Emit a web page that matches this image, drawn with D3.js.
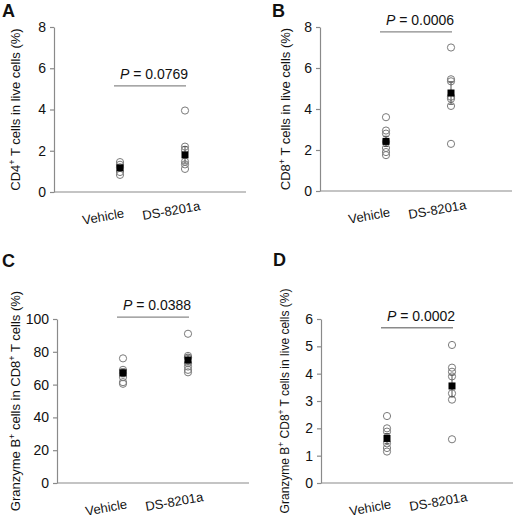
<!DOCTYPE html>
<html>
<head>
<meta charset="utf-8">
<script src="https://cdn.jsdelivr.net/npm/d3@7"></script>
<style>
  body { margin: 0; background: #fff; }
  text { font-family: "Liberation Sans", Arial, sans-serif; fill: #111; }
</style>
</head>
<body>
<div id="chart"></div>
<script>
// group names on the x axis
var categories = ["Vehicle", "DS-8201a"];

// panel A: CD4+ T cells in live cells (%)
var cd4Vehicle = [1.45, 1.32, 1.2, 0.97, 0.83];
var cd4DS = [3.95, 2.2, 2.05, 1.47, 1.34, 1.12];
var cd4Mean = [1.17, 1.8];
var cd4Sem = [0.11, 0.4];

// panel B: CD8+ T cells in live cells (%)
var cd8Vehicle = [3.6, 2.95, 2.8, 2.4, 2.1, 1.9, 1.75];
var cd8DS = [7.0, 5.45, 5.35, 4.6, 4.5, 4.15, 2.3];
var cd8Mean = [2.42, 4.78];
var cd8Sem = [0.25, 0.55];

// panel C: Granzyme B+ cells in CD8+ T cells (%)
var gzbVehicle = [76, 69, 67, 64.5, 61.5, 60.5];
var gzbDS = [91, 77.5, 76.5, 73, 71, 69, 67.5];
var gzbMean = [67.2, 75];
var gzbSem = [2.4, 3];

// panel D: Granzyme B+ CD8+ T cells in live cells (%)
var gzbCd8Vehicle = [2.45, 2.0, 1.88, 1.45, 1.28, 1.15];
var gzbCd8DS = [5.05, 4.22, 4.07, 3.9, 3.28, 3.05, 1.6];
var gzbCd8Mean = [1.63, 3.55];
var gzbCd8Sem = [0.18, 0.4];

// axes and annotations
var panelLetters = ["A", "B", "C", "D"];
var yMax = [8, 8, 100, 6];
var yStep = [2, 2, 20, 1];
var pValues = ["0.0769", "0.0006", "0.0388", "0.0002"];
var sigLineY = [5.15, 7.76, 101.2, 5.68];
// y label: [main, sup, main, sup, main ...]
var yLabels = [
  ["CD4", "+", " T cells in live cells (%)"],
  ["CD8", "+", " T cells in live cells (%)"],
  ["Granzyme B", "+", " cells in CD8", "+", " T cells (%)"],
  ["Granzyme B", "+", " CD8", "+", " T cells in live cells (%)"]
];

var seriesData = [
  [cd4Vehicle, cd4DS, cd4Mean, cd4Sem],
  [cd8Vehicle, cd8DS, cd8Mean, cd8Sem],
  [gzbVehicle, gzbDS, gzbMean, gzbSem],
  [gzbCd8Vehicle, gzbCd8DS, gzbCd8Mean, gzbCd8Sem]
];

// layout of each panel (axis origin, top of y axis, label size)
var layout = [
  {x0: 54,  yTop: 27,  yBot: 192, labX: 15,  labSize: 13, letX: 2,   letY: 17},
  {x0: 320, yTop: 27,  yBot: 191, labX: 285, labSize: 13, letX: 272, letY: 17},
  {x0: 57,  yTop: 319, yBot: 483, labX: 15,  labSize: 13, letX: 2,   letY: 267},
  {x0: 321, yTop: 319, yBot: 483, labX: 285, labSize: 12, letX: 273, letY: 266}
];

var axisColor = "#8a8a8a";
var dotColor = "#7a7a7a";

var svg = d3.select("#chart").append("svg")
    .attr("width", 520)
    .attr("height", 525);

layout.forEach(function(p, i) {
  var g = svg.append("g").attr("class", "panel");

  var yScale = d3.scaleLinear()
      .domain([0, yMax[i]])
      .range([p.yBot, p.yTop]);

  var xScale = d3.scaleLinear()
      .domain([0, 1])
      .range([p.x0 + 66, p.x0 + 131]);

  // y axis
  var yAxis = d3.axisLeft(yScale)
      .tickValues(d3.range(0, yMax[i] + yStep[i] / 2, yStep[i]))
      .tickFormat(d3.format("d"))
      .tickSize(4)
      .tickSizeOuter(0)
      .tickPadding(4);

  var ya = g.append("g")
      .attr("transform", "translate(" + p.x0 + ",0)")
      .call(yAxis);
  ya.select(".domain").attr("stroke", axisColor).attr("stroke-width", 1.2);
  ya.selectAll(".tick line").attr("stroke", axisColor).attr("stroke-width", 1.2);
  ya.selectAll(".tick text")
      .style("font-family", "Liberation Sans, Arial, sans-serif")
      .style("font-size", "14px")
      .attr("fill", "#111");

  // x axis line
  g.append("line")
      .attr("x1", p.x0).attr("x2", p.x0 + 192)
      .attr("y1", p.yBot).attr("y2", p.yBot)
      .attr("stroke", axisColor)
      .attr("stroke-width", 1.2);

  // slanted category labels
  var labOff = [{dx: -16, dy: 29}, {dx: -13, dy: 23}];
  categories.forEach(function(c, k) {
    var cx = xScale(k) + labOff[k].dx;
    var cy = p.yBot + labOff[k].dy;
    g.append("text")
        .attr("transform", "translate(" + cx + "," + cy + ") rotate(-10)")
        .attr("text-anchor", "middle")
        .style("font-size", "13px")
        .text(c);
  });

  // y axis title
  var yl = g.append("text")
      .attr("transform", "translate(" + p.labX + "," + ((p.yTop + p.yBot) / 2) + ") rotate(-90)")
      .attr("text-anchor", "middle")
      .attr("dy", "0.35em")
      .style("font-size", p.labSize + "px");
  yLabels[i].forEach(function(part, k) {
    var ts = yl.append("tspan").text(part);
    if (k % 2 == 1) {
      ts.attr("baseline-shift", "super").style("font-size", (p.labSize * 0.7) + "px");
    }
  });

  // panel letter
  g.append("text")
      .attr("x", p.letX).attr("y", p.letY)
      .style("font-size", "18px")
      .style("font-weight", "bold")
      .text(panelLetters[i]);

  // significance line + P value
  var lx1 = xScale(0) - 6, lx2 = xScale(1) + 1;
  var ly = yScale(sigLineY[i]);
  g.append("line")
      .attr("x1", lx1).attr("x2", lx2)
      .attr("y1", ly).attr("y2", ly)
      .attr("stroke", "#8a8a8a")
      .attr("stroke-width", 1.3);

  var pt = g.append("text")
      .attr("x", (lx1 + lx2) / 2 + 4)
      .attr("y", ly - 7)
      .attr("text-anchor", "middle")
      .style("font-size", "14px");
  pt.append("tspan").style("font-style", "italic").text("P");
  pt.append("tspan").text(" = " + pValues[i]);

  var d = seriesData[i];

  // individual points
  [d[0], d[1]].forEach(function(vals, k) {
    g.selectAll(".dot" + k)
        .data(vals)
        .enter()
        .append("circle")
        .attr("class", "dot" + k)
        .attr("cx", xScale(k))
        .attr("cy", function(v) { return yScale(v); })
        .attr("r", 3.6)
        .attr("fill", "none")
        .attr("stroke", dotColor)
        .attr("stroke-width", 1);
  });

  // error bars (mean +/- sem)
  var eb = g.selectAll(".err")
      .data(d[2])
      .enter()
      .append("g")
      .attr("class", "err");
  eb.append("line")
      .attr("x1", function(v, k) { return xScale(k); })
      .attr("x2", function(v, k) { return xScale(k); })
      .attr("y1", function(v, k) { return yScale(v - d[3][k]); })
      .attr("y2", function(v, k) { return yScale(v + d[3][k]); })
      .attr("stroke", "#555")
      .attr("stroke-width", 1);
  [-1, 1].forEach(function(sgn) {
    eb.append("line")
        .attr("x1", function(v, k) { return xScale(k) - 2.5; })
        .attr("x2", function(v, k) { return xScale(k) + 2.5; })
        .attr("y1", function(v, k) { return yScale(v + sgn * d[3][k]); })
        .attr("y2", function(v, k) { return yScale(v + sgn * d[3][k]); })
        .attr("stroke", "#555")
        .attr("stroke-width", 1);
  });

  // mean squares
  g.selectAll(".mean")
      .data(d[2])
      .enter()
      .append("rect")
      .attr("class", "mean")
      .attr("x", function(v, k) { return xScale(k) - 3.5; })
      .attr("y", function(v) { return yScale(v) - 3.5; })
      .attr("width", 7)
      .attr("height", 7)
      .attr("fill", "#000");
});
</script>
</body>
</html>
